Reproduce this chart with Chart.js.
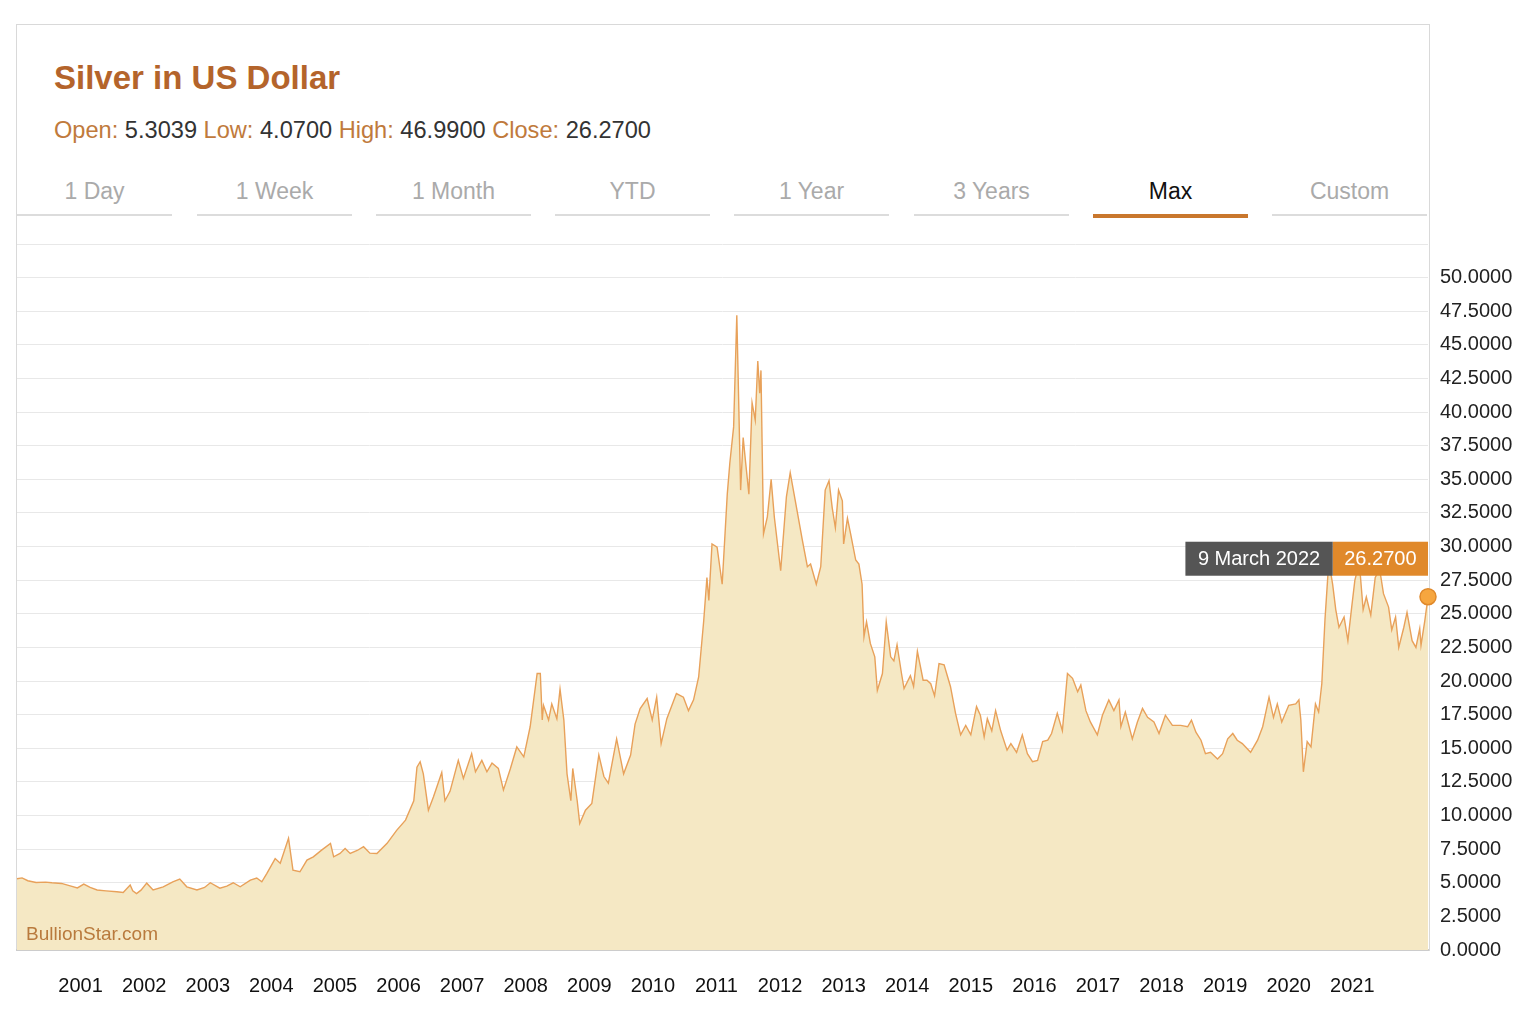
<!DOCTYPE html>
<html>
<head>
<meta charset="utf-8">
<title>Silver in US Dollar</title>
<script src="https://cdn.jsdelivr.net/npm/chart.js@4.4.0/dist/chart.umd.min.js"></script>
<style>
  body { margin: 0; background: #fff; font-family: "Liberation Sans", Arial, Helvetica, sans-serif; }
  #page { position: relative; width: 1536px; height: 1010px; overflow: hidden; }
  #card { position: absolute; left: 16px; top: 24px; width: 1414px; height: 927px; box-sizing: border-box;
          border: 1px solid #d9d9d9; border-bottom: none; }
  #title { position: absolute; left: 54px; top: 61px; font-size: 33px; font-weight: bold; color: #b4642b; line-height: 33px; white-space: nowrap; }
  #ohlc { position: absolute; left: 54px; top: 117px; font-size: 23.6px; color: #333; line-height: 26px; white-space: nowrap; }
  #ohlc span { color: #c07a3c; }
  .tab { position: absolute; top: 175px; height: 30px; padding-top: 1px; line-height: 30px; text-align: center;
         font-size: 23px; color: #aaa; border-bottom: 2px solid #dcdcdc; box-sizing: content-box; }
  .tab.active { color: #111; border-bottom: 4px solid #c9772d; height: 38px; line-height: 30px; }
  #chartWrap { position: absolute; left: 0; top: 230px; }
  #mark { position: absolute; left: 26px; top: 923px; font-size: 19px; color: #b97a3d; line-height: 22px; }
</style>
</head>
<body>
<div id="page">
  <div id="card"></div>
  <div id="title">Silver in US Dollar</div>
  <div id="ohlc"><span>Open:</span> 5.3039 <span>Low:</span> 4.0700 <span>High:</span> 46.9900 <span>Close:</span> 26.2700</div>
  <div id="tabs"></div>
  <div id="chartWrap"><canvas id="chart" width="1536" height="780"></canvas></div>
  <div id="mark">BullionStar.com</div>
</div>
<script>
// price history (decimal year, USD per oz)
var years = [
  2000.00, 2000.08, 2000.17, 2000.30, 2000.45, 2000.55, 2000.70, 2000.85, 2000.95,
  2001.05, 2001.15, 2001.26, 2001.40, 2001.57, 2001.67, 2001.78, 2001.82, 2001.88, 2001.95,
  2002.04, 2002.14, 2002.30, 2002.45, 2002.56, 2002.67, 2002.83, 2002.95,
  2003.04, 2003.19, 2003.30, 2003.40, 2003.51, 2003.67, 2003.77, 2003.85, 2003.93,
  2004.06, 2004.14, 2004.27, 2004.34, 2004.45, 2004.56, 2004.66, 2004.79, 2004.93, 2004.98,
  2005.08, 2005.16, 2005.24, 2005.35, 2005.45, 2005.55, 2005.66, 2005.82, 2005.97,
  2006.11, 2006.24, 2006.29, 2006.34, 2006.39, 2006.47, 2006.55, 2006.68, 2006.73, 2006.81, 2006.94,
  2007.02, 2007.15, 2007.21, 2007.31, 2007.39, 2007.47, 2007.57, 2007.65, 2007.76, 2007.86, 2007.97,
  2008.07, 2008.18, 2008.23, 2008.26, 2008.28, 2008.36, 2008.41, 2008.49, 2008.54, 2008.60, 2008.65, 2008.71, 2008.74, 2008.81, 2008.85, 2008.94,
  2009.04, 2009.15, 2009.23, 2009.30, 2009.43, 2009.54, 2009.65, 2009.72, 2009.80, 2009.91, 2009.99,
  2010.06, 2010.13, 2010.22, 2010.37, 2010.48, 2010.56, 2010.64, 2010.72, 2010.80, 2010.85, 2010.88, 2010.93,
  2011.01, 2011.09, 2011.17, 2011.21, 2011.27, 2011.32, 2011.38, 2011.42, 2011.46, 2011.51, 2011.56, 2011.61, 2011.65, 2011.68, 2011.70, 2011.74, 2011.80, 2011.86, 2011.91,
  2012.01, 2012.10, 2012.16, 2012.24, 2012.35, 2012.43, 2012.48, 2012.57, 2012.64, 2012.71, 2012.77, 2012.82, 2012.87, 2012.92, 2012.98,
  2013.00, 2013.06, 2013.11, 2013.19, 2013.24, 2013.29, 2013.32, 2013.36, 2013.42, 2013.49, 2013.53, 2013.61, 2013.67, 2013.74, 2013.79, 2013.84, 2013.91, 2013.95,
  2014.05, 2014.10, 2014.16, 2014.25, 2014.31, 2014.37, 2014.43, 2014.50, 2014.58, 2014.68, 2014.76, 2014.84, 2014.92,
  2015.00, 2015.09, 2015.15, 2015.21, 2015.26, 2015.33, 2015.39, 2015.47, 2015.57, 2015.63, 2015.72, 2015.81, 2015.89, 2015.97,
  2016.05, 2016.13, 2016.21, 2016.27, 2016.36, 2016.44, 2016.52, 2016.60, 2016.68, 2016.73, 2016.81, 2016.88, 2016.99,
  2017.07, 2017.17, 2017.25, 2017.33, 2017.36, 2017.43, 2017.54, 2017.62, 2017.70, 2017.78, 2017.88, 2017.96,
  2018.06, 2018.17, 2018.30, 2018.41, 2018.47, 2018.54, 2018.62, 2018.69, 2018.77, 2018.88, 2018.96,
  2019.04, 2019.12, 2019.19, 2019.27, 2019.40, 2019.51, 2019.59, 2019.69, 2019.76, 2019.82, 2019.89,
  2020.00, 2020.11, 2020.16, 2020.19, 2020.23, 2020.29, 2020.35, 2020.42, 2020.47, 2020.52, 2020.57, 2020.63, 2020.69, 2020.74, 2020.79, 2020.87, 2020.93, 2020.99,
  2021.04, 2021.11, 2021.17, 2021.22, 2021.29, 2021.36, 2021.43, 2021.49, 2021.57, 2021.62, 2021.68, 2021.73, 2021.81, 2021.86, 2021.94,
  2022.00, 2022.06, 2022.08, 2022.14, 2022.19
];
var prices = [
  5.30, 5.36, 5.15, 5.02, 5.05, 5.00, 4.95, 4.75, 4.62,
  4.90, 4.65, 4.46, 4.40, 4.33, 4.28, 4.83, 4.40, 4.20, 4.45,
  4.97, 4.46, 4.70, 5.07, 5.27, 4.70, 4.46, 4.65,
  5.00, 4.60, 4.75, 5.00, 4.70, 5.20, 5.35, 5.07, 5.70,
  6.80, 6.45, 8.30, 5.94, 5.82, 6.69, 6.93, 7.43, 7.93, 6.93,
  7.18, 7.55, 7.18, 7.40, 7.68, 7.20, 7.18, 7.93, 8.90,
  9.66, 11.10, 13.60, 14.00, 13.10, 10.40, 11.40, 13.20, 11.10, 11.80, 14.10,
  12.76, 14.60, 13.25, 14.10, 13.25, 13.90, 13.50, 11.90, 13.50, 15.10, 14.36,
  16.60, 20.56, 20.56, 17.10, 18.20, 17.10, 18.30, 17.20, 19.40, 17.10, 13.10, 11.10, 13.50, 11.10, 9.40, 10.40,
  10.90, 14.50, 12.90, 12.40, 15.70, 13.10, 14.50, 16.80, 17.96, 18.70, 17.10,
  18.80, 15.35, 17.20, 19.07, 18.80, 17.80, 18.60, 20.30, 24.50, 27.70, 26.00, 30.20,
  29.96, 27.20, 33.90, 36.20, 38.90, 47.20, 34.20, 38.10, 36.20, 33.90, 40.70, 39.40, 43.80, 41.40, 43.10, 30.95, 32.20, 35.00, 32.20,
  28.20, 33.70, 35.50, 33.40, 30.50, 28.50, 28.70, 27.20, 28.50, 34.20, 34.90, 32.90, 31.40, 34.20, 33.40,
  30.20, 32.10, 30.95, 29.00, 28.70, 27.20, 23.30, 24.40, 22.80, 21.80, 19.30, 20.56, 24.40, 21.80, 21.50, 22.70, 20.56, 19.44,
  20.40, 19.60, 22.20, 20.06, 20.06, 19.80, 18.90, 21.30, 21.20, 19.60, 17.60, 16.00, 16.70,
  16.00, 18.10, 17.46, 15.85, 17.20, 16.30, 17.80, 16.30, 14.86, 15.35, 14.70, 16.00, 14.60, 14.00,
  14.10, 15.50, 15.60, 16.10, 17.60, 16.30, 20.56, 20.20, 19.20, 19.70, 17.80, 16.96, 16.00,
  17.46, 18.60, 17.80, 18.60, 16.60, 17.70, 15.70, 16.96, 17.96, 17.30, 16.96, 16.10,
  17.46, 16.70, 16.70, 16.60, 17.10, 16.20, 15.60, 14.60, 14.70, 14.20, 14.60,
  15.70, 16.10, 15.60, 15.35, 14.70, 15.60, 16.60, 18.80, 17.30, 18.30, 16.96,
  18.20, 18.30, 18.60, 17.10, 13.25, 15.50, 15.10, 18.30, 17.70, 19.80, 24.60, 28.90, 27.20, 25.30, 24.00, 24.76, 23.00, 25.50,
  27.50, 28.80, 25.30, 26.25, 24.90, 27.70, 28.30, 26.50, 25.50, 23.80, 24.76, 22.50, 24.00, 25.10, 23.00,
  22.50, 23.90, 22.66, 24.50, 26.27
];
var yearTicks = [2001, 2002, 2003, 2004, 2005, 2006, 2007, 2008, 2009, 2010, 2011,
                 2012, 2013, 2014, 2015, 2016, 2017, 2018, 2019, 2020, 2021];
var lastLabel = '9 March 2022';
var tabNames = ['1 Day', '1 Week', '1 Month', 'YTD', '1 Year', '3 Years', 'Max', 'Custom'];

// tab row
var tabLeft = [17, 197, 376, 555, 734, 914, 1093, 1272];
for (var i = 0; i < tabNames.length; i++) {
  var cls = tabNames[i] == 'Max' ? 'tab active' : 'tab';
  var h = tabNames[i] == 'Max' ? '' : 'height:38px;';
  document.getElementById('tabs').innerHTML += `
    <div class="${cls}" style="left:${tabLeft[i]}px;width:155px;${h}">${tabNames[i]}</div>
  `;
}

var points = years.map(function (y, i) { return { x: y, y: prices[i] }; });
var lastIndex = prices.length - 1;
var fontFamily = '"Liberation Sans", Arial, Helvetica, sans-serif';

// the dark/orange label above the last point
var tooltipBox = {
  id: 'tooltipBox',
  afterDatasetsDraw: function (chart) {
    var ctx = chart.ctx;
    var meta = chart.getDatasetMeta(0);
    var pt = meta.data[lastIndex];
    var right = chart.chartArea.right;
    var bottom = pt.y - 21;
    var top = bottom - 34;
    var valueText = prices[lastIndex].toFixed(4);
    ctx.save();
    ctx.font = '20px ' + fontFamily;
    var w2 = ctx.measureText(valueText).width + 23;
    var w1 = ctx.measureText(lastLabel).width + 25;
    ctx.fillStyle = '#e0892b';
    ctx.fillRect(right - w2, top, w2, 34);
    ctx.fillStyle = '#555555';
    ctx.fillRect(right - w2 - w1, top, w1, 34);
    ctx.fillStyle = '#ffffff';
    ctx.textBaseline = 'middle';
    ctx.textAlign = 'center';
    ctx.fillText(valueText, right - w2 / 2, top + 18);
    ctx.fillText(lastLabel, right - w2 - w1 / 2, top + 18);
    ctx.restore();
  }
};

var ctx = document.getElementById('chart').getContext('2d');
new Chart(ctx, {
  type: 'line',
  data: {
    datasets: [{
      label: 'Silver',
      data: points,
      borderColor: '#e8a15a',
      borderWidth: 1.4,
      backgroundColor: '#f5e8c4',
      fill: 'origin',
      tension: 0,
      clip: false,
      pointRadius: function (c) { return c.dataIndex == lastIndex ? 8 : 0; },
      pointBackgroundColor: '#f6a63f',
      pointBorderColor: '#e0892b',
      pointBorderWidth: 1.5,
      pointHoverRadius: 0
    }]
  },
  options: {
    responsive: false,
    animation: false,
    events: [],
    layout: { padding: { left: 17, top: 14, right: 0, bottom: 0 } },
    plugins: {
      legend: { display: false },
      tooltip: { enabled: false }
    },
    scales: {
      x: {
        type: 'linear',
        min: years[0],
        max: years[lastIndex],
        grid: { display: false, drawTicks: false },
        border: { display: true, color: '#cccccc', width: 2 },
        afterBuildTicks: function (axis) {
          axis.ticks = yearTicks.map(function (v) { return { value: v }; });
        },
        afterFit: function (axis) { axis.height = 60; },
        ticks: {
          autoSkip: false,
          maxRotation: 0,
          padding: 24,
          color: '#111111',
          font: { family: fontFamily, size: 20 },
          callback: function (value) { return String(value); }
        }
      },
      y: {
        position: 'right',
        min: 0,
        max: 52.5,
        grid: { color: '#e8e8e8', lineWidth: 1, drawTicks: false },
        border: { display: false },
        afterFit: function (axis) {
          axis.width = 108;
          axis.paddingTop = 0;
          axis.paddingBottom = 0;
        },
        ticks: {
          stepSize: 2.5,
          padding: 12,
          color: '#222222',
          font: { family: fontFamily, size: 20 },
          callback: function (value) {
            if (Math.abs(value - 52.5) < 0.01) return '';
            return value.toFixed(4);
          }
        }
      }
    }
  },
  plugins: [tooltipBox]
});
</script>
</body>
</html>
